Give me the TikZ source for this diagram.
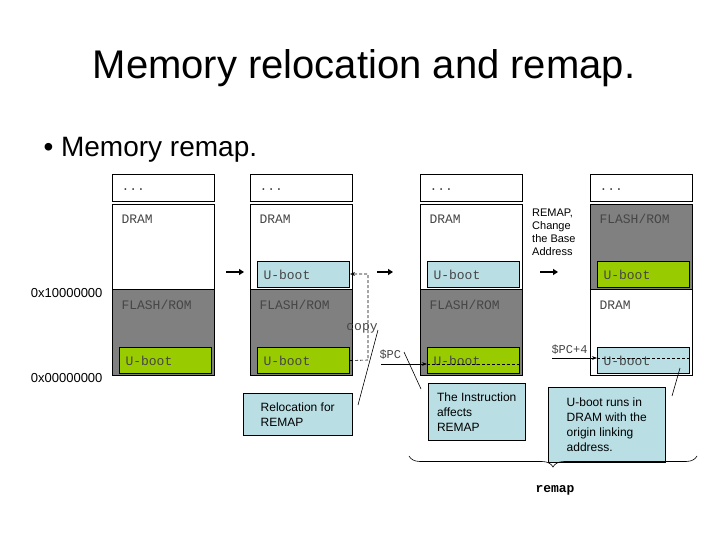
\documentclass[tikz,border=0pt]{standalone}
\usepackage{fontspec}
\setmainfont{Liberation Sans}
\newfontfamily\mono{Liberation Mono}
\usetikzlibrary{decorations.pathreplacing,arrows.meta}
\definecolor{flash}{RGB}{128,128,128}
\definecolor{ugreen}{RGB}{153,204,0}
\definecolor{ublue}{RGB}{185,222,228}
\definecolor{mtext}{RGB}{70,70,70}
\begin{document}
\begin{tikzpicture}[x=1pt,y=-1pt,
  cell/.style={draw=black,line width=1.2pt,minimum width=102pt,anchor=north west,inner sep=0pt},
  lbl/.style={font=\mono\fontsize{13}{13}\selectfont,text=mtext,anchor=west},
  ub/.style={draw=black,line width=1pt,minimum width=92pt,minimum height=26pt,anchor=north west,inner sep=0pt,font=\mono\fontsize{13}{13}\selectfont,text=mtext,text width=80pt},
  call/.style={draw=black,fill=ublue,anchor=north west,align=left,font=\fontsize{12}{15}\selectfont,inner sep=5pt},
  bar/.style={-{Triangle[length=5pt,width=6pt]},line width=2.5pt},
  dsh/.style={densely dashed,line width=0.6pt},
  ptr/.style={line width=0.6pt}]
\useasboundingbox (0,0) rectangle (728,546);
\node[font=\fontsize{40}{40}\selectfont] (title) at (364,68) {Memory relocation and remap.};
\node[font=\fontsize{28}{28}\selectfont,anchor=west] (bul) at (40,150) {\textbullet\ Memory remap.};
% columns
\foreach \i/\x in {1/112,2/250,3/420,4/590}{
  \node[cell,minimum height=27pt] (top\i) at (\x,174) {};
  \node[lbl] at (\x+6,190) {...};
}
\foreach \i/\x in {1/112,2/250,3/420}{
  \node[cell,minimum height=85pt,fill=white] (dram\i) at (\x,204) {};
  \node[lbl] at (\x+6,219) {DRAM};
  \node[cell,minimum height=86pt,fill=flash] (fl\i) at (\x,289) {};
  \node[lbl] at (\x+6,305) {FLASH/ROM};
}
\node[cell,minimum height=85pt,fill=flash] (fl4) at (590,204) {};
\node[lbl] at (596,219) {FLASH/ROM};
\node[cell,minimum height=86pt,fill=white] (dram4) at (590,289) {};
\node[lbl] at (596,305) {DRAM};
\node[ub,fill=ugreen] (g1) at (119,347) {U-boot};
\node[ub,fill=ugreen] (g2) at (257,347) {U-boot};
\node[ub,fill=ugreen] (g3) at (427,347) {U-boot};
\node[ub,fill=ublue] (b2) at (257,261) {U-boot};
\node[ub,fill=ublue] (b3) at (427,261) {U-boot};
\node[ub,fill=ugreen] (g4) at (597,261) {U-boot};
\node[ub,fill=ublue] (b4) at (597,347) {U-boot};
% addresses
\node[font=\fontsize{13}{13}\selectfont,anchor=east] (a1) at (106,293) {0x10000000};
\node[font=\fontsize{13}{13}\selectfont,anchor=east] (a0) at (106,378) {0x00000000};
% step arrows
\coordinate (s1a) at (226,272); \coordinate (s1b) at (244,272);
\coordinate (s2a) at (377,272); \coordinate (s2b) at (393,272);
\coordinate (s3a) at (540,272); \coordinate (s3b) at (558,272);
\draw[bar] (s1a) -- (s1b);
\draw[bar] (s2a) -- (s2b);
\draw[bar] (s3a) -- (s3b);
\node[font=\fontsize{11}{13}\selectfont,align=left,anchor=north west,inner sep=0pt] (rm) at (532,209) {REMAP,\\Change\\the Base\\Address};
% copy
\coordinate (c1) at (368,360); \coordinate (c2) at (368,274);
\draw[dsh,-{Stealth[length=5pt]}] (g2.east) -- (c1) -- (c2) -- (b2.east |- c2);
\node[lbl,anchor=center] (cp) at (362,328) {copy};
% PC
\node[lbl,anchor=west,font=\mono\fontsize{12}{12}\selectfont] (pc) at (376,355) {\$PC};
\coordinate (pc0) at (381,364);
\draw[ptr,-{Stealth[length=5pt]}] (pc0) -- (g3.west |- pc0);
\coordinate (pce) at (522,364);
\draw[dsh] (g3.west |- pc0) -- (pce);
\node[lbl,anchor=west,font=\mono\fontsize{12}{12}\selectfont] (pc4) at (548,350) {\$PC+4};
\coordinate (pq0) at (552,358);
\draw[ptr,-{Stealth[length=5pt]}] (pq0) -- (b4.west |- pq0);
\coordinate (pqe) at (690,358);
\draw[dsh] (b4.west |- pq0) -- (pqe);
% callouts
\node[call,minimum width=109pt,minimum height=42pt] (cb1) at (243,393) {Relocation for\\REMAP};
\node[call,minimum width=97pt,minimum height=57pt] (cb2) at (428,383) {The Instruction\\affects\\REMAP};
\node[call,minimum width=117pt,minimum height=75pt] (cb3) at (548,387) {U-boot runs in\\DRAM with the\\origin linking\\address.};
\coordinate (l1a) at (358,405); \coordinate (l1b) at (378,330);
\coordinate (l2a) at (421,389); \coordinate (l2b) at (404,352);
\coordinate (l3a) at (672,396); \coordinate (l3b) at (680,368);
\draw[ptr] (l1a) -- (l1b);
\draw[ptr] (l2a) -- (l2b);
\draw[ptr] (l3a) -- (l3b);
% brace
\coordinate (br1) at (697,456); \coordinate (br2) at (409,456);
\draw[ptr,decorate,decoration={brace,amplitude=11pt}] (br1) -- (br2);
\node[font=\mono\bfseries\fontsize{13}{13}\selectfont] (remap) at (555,490) {remap};
\end{tikzpicture}
\end{document}
